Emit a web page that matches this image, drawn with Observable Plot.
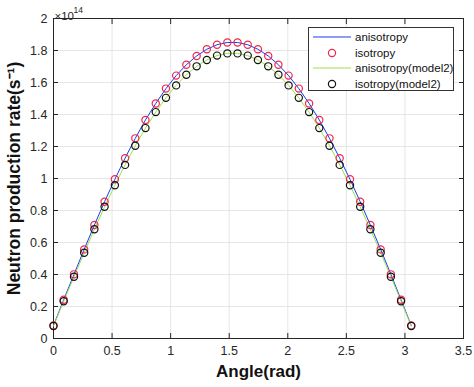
<!DOCTYPE html>
<html><head><meta charset="utf-8">
<script src="https://cdn.jsdelivr.net/npm/d3@7"></script>
<script src="https://cdn.jsdelivr.net/npm/@observablehq/plot@0.6"></script>
<style>
body{margin:0;background:#fff;font-family:"Liberation Sans",Arial,sans-serif;}
#wrap{position:relative;width:474px;height:387px;}
#legend{position:absolute;left:308px;top:27px;width:146px;height:64px;border:1px solid #333;background:#fff;box-sizing:border-box;font-size:11.5px;color:#111;}
#legend .row{position:absolute;left:0;height:16px;display:flex;align-items:center;}
#legend svg{margin-left:4px;margin-right:4px;}
</style></head>
<body><div id="wrap"><div id="chart"></div><div id="legend"></div></div>
<script>
const angles = [0,0.087,0.175,0.262,0.349,0.436,0.524,0.611,0.698,0.785,0.873,0.960,1.047,1.134,1.222,1.309,1.396,1.484,1.571,1.658,1.745,1.833,1.920,2.007,2.094,2.182,2.269,2.356,2.443,2.531,2.618,2.705,2.793,2.880,2.967,3.054];
const isotropy = [0.081,0.242,0.401,0.557,0.709,0.855,0.995,1.127,1.251,1.366,1.469,1.562,1.643,1.711,1.766,1.808,1.836,1.850,1.850,1.836,1.808,1.766,1.711,1.643,1.562,1.469,1.366,1.251,1.127,0.995,0.855,0.709,0.557,0.401,0.242,0.081];
const anisotropy = [0.081,0.242,0.401,0.557,0.709,0.855,0.995,1.127,1.251,1.366,1.469,1.562,1.643,1.711,1.766,1.808,1.836,1.850,1.850,1.836,1.808,1.766,1.711,1.643,1.562,1.469,1.366,1.251,1.127,0.995,0.855,0.709,0.557,0.401,0.242,0.081];
const isotropy2 = [0.078,0.233,0.386,0.536,0.683,0.823,0.958,1.085,1.205,1.315,1.415,1.504,1.582,1.648,1.701,1.741,1.768,1.782,1.782,1.768,1.741,1.701,1.648,1.582,1.504,1.415,1.315,1.205,1.085,0.958,0.823,0.683,0.536,0.386,0.233,0.078];
const anisotropy2 = [0.078,0.233,0.386,0.536,0.683,0.823,0.958,1.085,1.205,1.315,1.415,1.504,1.582,1.648,1.701,1.741,1.768,1.782,1.782,1.768,1.741,1.701,1.648,1.582,1.504,1.415,1.315,1.205,1.085,0.958,0.823,0.683,0.536,0.386,0.233,0.078];
const xTicks = [0,0.5,1,1.5,2,2.5,3,3.5];
const yTicks = [0,0.2,0.4,0.6,0.8,1,1.2,1.4,1.6,1.8,2];
const yTickLabels = ["0","0.2","0.4","0.6","0.8","1","1.2","1.4","1.6","1.8","2"];
const seriesNames = ["anisotropy","isotropy","anisotropy(model2)","isotropy(model2)"];
const colors = {blue:"#1a3cf0", red:"#f0284a", green:"#9ee04a", black:"#111"};

const rows = (ys) => angles.map((a,i)=>({x:a,y:ys[i]}));

const chart = Plot.plot({
  width:474, height:387,
  marginLeft:53, marginRight:11, marginTop:18, marginBottom:49,
  style:{fontFamily:'"Liberation Sans",Arial,sans-serif', fontSize:"12.5px", background:"#fff", color:"#262626"},
  x:{domain:[0,3.5]},
  y:{domain:[0,2]},
  marks:[
    Plot.gridX(xTicks,{stroke:"#e6e6e6", strokeOpacity:1}),
    Plot.gridY(yTicks,{stroke:"#e6e6e6", strokeOpacity:1}),
    Plot.axisX(xTicks,{anchor:"bottom", tickSize:-5, tickPadding:13, label:null, tickFormat:d=>String(d)}),
    Plot.axisX(xTicks,{anchor:"top", tickSize:-5, text:null, label:null}),
    Plot.axisY(yTicks,{anchor:"left", tickSize:-5, tickPadding:11, label:null, tickFormat:(d,i)=>yTickLabels[i]}),
    Plot.axisY(yTicks,{anchor:"right", tickSize:-5, text:null, label:null}),
    Plot.frame({stroke:"#262626"}),
    Plot.line(rows(anisotropy),{x:"x",y:"y",stroke:colors.blue,strokeWidth:1}),
    Plot.line(rows(anisotropy2),{x:"x",y:"y",stroke:colors.green,strokeWidth:1}),
    Plot.dot(rows(isotropy),{x:"x",y:"y",r:3.6,stroke:colors.red,strokeWidth:1.2}),
    Plot.dot(rows(isotropy2),{x:"x",y:"y",r:3.6,stroke:colors.black,strokeWidth:1.2}),
    Plot.text(["Angle(rad)"],{frameAnchor:"bottom", dy:38, fontWeight:"bold", fontSize:17, fill:"#111"}),
    Plot.text(["Neutron production rate(s⁻¹)"],{frameAnchor:"left", textAnchor:"middle", rotate:-90, dx:-39, fontWeight:"bold", fontSize:17.5, fill:"#111"}),
    Plot.text(["×10"],{frameAnchor:"top-left", textAnchor:"start", dy:-7, dx:1, fontSize:11.5, fill:"#262626"}),
    Plot.text(["14"],{frameAnchor:"top-left", textAnchor:"start", dy:-12, dx:20, fontSize:8.5, fill:"#262626"})
  ]
});
document.getElementById("chart").append(chart);

const leg = document.getElementById("legend");
const kinds = [["line",colors.blue],["dot",colors.red],["line",colors.green],["dot",colors.black]];
seriesNames.forEach((name,i)=>{
  const row = document.createElement("div");
  row.className="row";
  row.style.top = (1 + i*15.5) + "px";
  const [k,c] = kinds[i];
  const sample = k==="line"
    ? `<svg width="38" height="16"><line x1="0" x2="38" y1="8" y2="8" stroke="${c}" stroke-width="1.2"/></svg>`
    : `<svg width="38" height="16"><circle cx="19" cy="8" r="3.6" fill="none" stroke="${c}" stroke-width="1.2"/></svg>`;
  row.innerHTML = sample + `<span>${name}</span>`;
  leg.appendChild(row);
});
</script></body></html>
